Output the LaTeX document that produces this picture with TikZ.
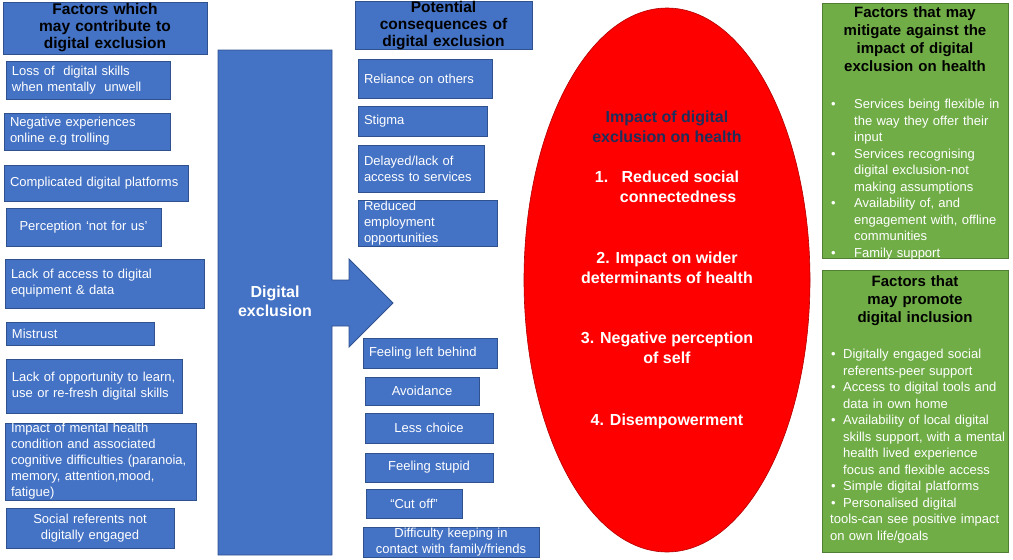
\documentclass[tikz,border=0pt]{standalone}
\usepackage{fontspec}
\setmainfont{Liberation Sans}
\hyphenpenalty=10000 \exhyphenpenalty=10000
\definecolor{bfill}{HTML}{4472C4}
\definecolor{bdraw}{HTML}{2F528F}
\definecolor{gfill}{HTML}{70AD47}
\definecolor{gdraw}{HTML}{507E32}
\definecolor{navy}{HTML}{1F2F5C}
\tikzset{
  box/.style={fill=bfill,draw=bdraw,line width=0.8pt,text=white,inner sep=0pt,anchor=north west,font=\fontsize{13}{16}\selectfont},
  hbox/.style={box,text=black,font=\fontsize{15.5}{17}\selectfont\bfseries},
  gbox/.style={fill=gfill,draw=gdraw,line width=0.8pt,inner sep=0pt,anchor=north west},
  ell/.style={align=center,font=\fontsize{16}{20}\selectfont\bfseries}
}
\newcommand\bul[2]{\par\hangindent=#1\hangafter=1\noindent\makebox[#1][l]{\hspace{1pt}•}#2}
\begin{document}
\begin{tikzpicture}[x=1pt,y=-1pt]
\useasboundingbox (0,0) rectangle (1013,560);
% left column
\node[hbox,minimum width=204pt,minimum height=52pt,text width=170pt,align=center,anchor=center] (lh) at (105,28) {Factors which may contribute to digital exclusion};
\newcommand\B[7][left]{\pgfmathsetmacro\bw{#4-#2}\pgfmathsetmacro\bh{#5-#3}\pgfmathsetmacro\tw{#4-#2-12}%
  \node[box,minimum width=\bw pt,minimum height=\bh pt,text width=\tw pt,align=#1,anchor=center] (#6) at ({(#2+#4)/2},{(#3+#5)/2}) {#7};}
\B{6}{61}{170}{99}{l1}{Loss of\ \ digital skills when mentally\ \ unwell}
\B{4}{113}{170}{150}{l2}{Negative experiences online e.g trolling}
\B{4}{165}{188}{201}{l3}{Complicated digital platforms}
\B[center]{6}{208}{161}{246}{l4}{Perception ‘not for us’}
\B{5}{259}{204}{308}{l5}{Lack of access to digital equipment \& data}
\B{6}{322}{154}{345}{l6}{Mistrust}
\B{6}{359}{182}{413}{l7}{Lack of opportunity to learn, use or re-fresh digital skills}
\B{5}{423}{196}{500}{l8}{Impact of mental health condition and associated cognitive difficulties (paranoia, memory, attention,mood, fatigue)}
\B[center]{6}{508}{174}{548}{l9}{Social referents not digitally engaged}
% big arrow
\draw[fill=bfill,draw=bdraw,line width=0.8pt] (218,50)--(332,50)--(332,280)--(349,280)--(349,259)--(393,303)--(349,347)--(349,326)--(332,326)--(332,555)--(218,555)--cycle;
\node[text=white,align=center,font=\fontsize{16}{19}\selectfont\bfseries] (de) at (275,301) {Digital\\exclusion};
% middle column
\node[hbox,minimum width=177pt,minimum height=45pt,text width=172pt,align=center,anchor=center] (mh) at (443.5,25.5) {Potential consequences of digital exclusion};
\B{358}{59}{492}{98}{m1}{Reliance on others}
\B{358}{106}{487}{136}{m2}{Stigma}
\B{358}{145}{484}{192}{m3}{Delayed/lack of access to services}
\B{358}{200}{497}{246}{m4}{Reduced employment opportunities}
\B{363}{338}{497}{368}{m5}{Feeling left behind}
\B[center]{365}{377}{479}{405}{m6}{Avoidance}
\B[center]{365}{413}{493}{443}{m7}{Less choice}
\B[center]{365}{453}{493}{482}{m8}{Feeling stupid}
\B[center]{366}{489}{462}{518}{m9}{“Cut off”}
\B[center]{363}{527}{539}{557}{m10}{Difficulty keeping in contact with family/friends}
% ellipse
\draw[fill=red,draw=red!70!black,line width=0.6pt] (667,280) ellipse [x radius=143, y radius=272];
\node[ell,text=navy] (e0) at (667,127) {Impact of digital\\exclusion on health};
\node[ell,text=white] (e1) at (667,187) {1.\ \ \ Reduced social\\\ \ \ \ \ connectedness};
\node[ell,text=white] (e2) at (667,268) {2. Impact on wider\\determinants of health};
\node[ell,text=white] (e3) at (667,348) {3. Negative perception\\of self};
\node[ell,text=white] (e4) at (667,421) {4. Disempowerment};
% green boxes
\node[gbox,minimum width=186pt,minimum height=255pt] (g1) at (822,3) {};
\node[anchor=north,text width=170pt,align=center,font=\fontsize{15}{18}\selectfont\bfseries] (g1t) at (915,3) {Factors that may mitigate against the impact of digital exclusion on health};
\node[anchor=north west,text width=172pt,align=left,text=white,inner sep=0pt,font=\fontsize{13}{16.5}\selectfont] (g1b) at (830,92) {%
\bul{24pt}{Services being flexible in the way they offer their input}
\bul{24pt}{Services recognising digital exclusion-not making assumptions}
\bul{24pt}{Availability of, and engagement with, offline communities}
\bul{24pt}{Family support}};
\node[gbox,minimum width=186pt,minimum height=282pt] (g2) at (822,270) {};
\node[anchor=north,text width=170pt,align=center,font=\fontsize{15}{18}\selectfont\bfseries] (g2t) at (915,272) {Factors that may promote digital inclusion};
\node[anchor=north west,text width=176pt,align=left,text=white,inner sep=0pt,font=\fontsize{13}{16.5}\selectfont] (g2b) at (830,342) {%
\bul{13pt}{Digitally engaged social referents-peer support}
\bul{13pt}{Access to digital tools and data in own home}
\bul{13pt}{Availability of local digital skills support, with a mental health lived experience focus and flexible access}
\bul{13pt}{Simple digital platforms}
\bul{13pt}{Personalised digital tools-can see positive impact on own life/goals}};
\end{tikzpicture}
\end{document}
